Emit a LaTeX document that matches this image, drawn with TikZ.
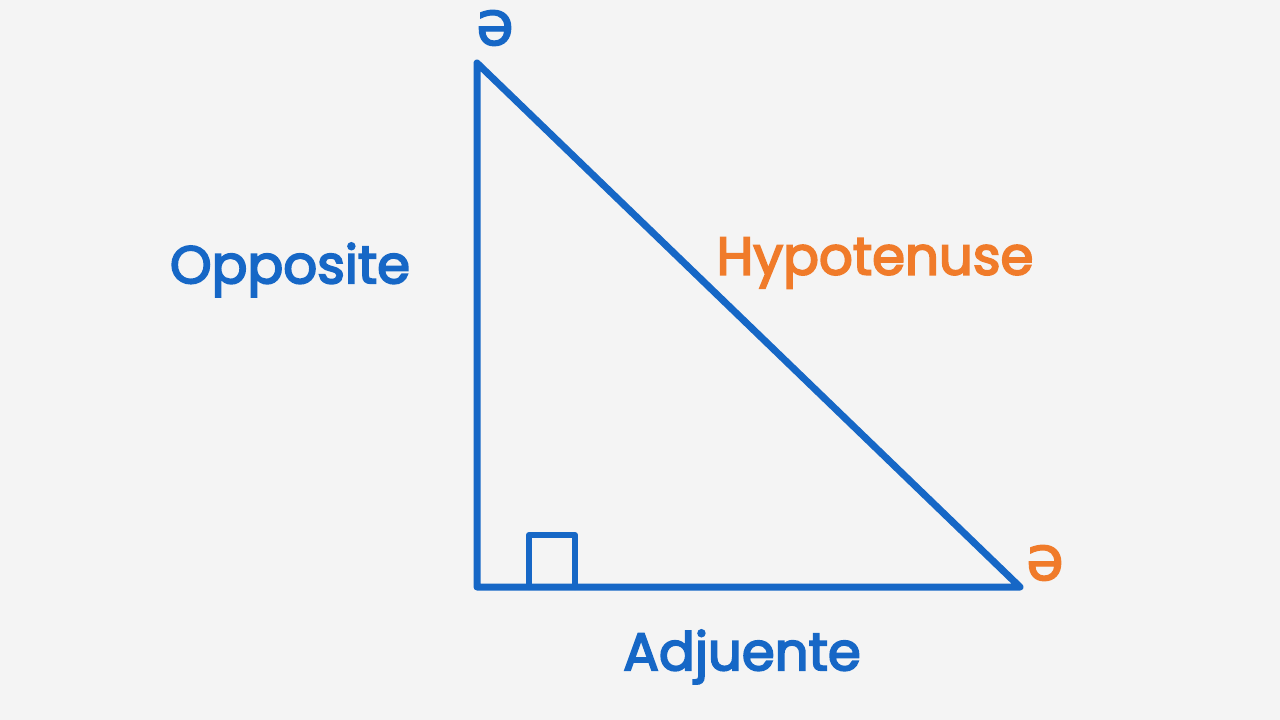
\documentclass[tikz,border=0pt]{standalone}
\usepackage{fontspec}
\setmainfont{Poppins}
\newfontfamily\lblfont{Poppins}[FakeBold=3.5]
\newfontfamily\schwa{DejaVu Sans}[FakeBold=2]
\definecolor{bg}{HTML}{F4F4F4}
\definecolor{tblue}{HTML}{1667C6}
\definecolor{torange}{HTML}{F07B2A}
\begin{document}
\begin{tikzpicture}[x=1pt,y=-1pt,
  side/.style={draw=tblue,line width=7pt,line join=round,line cap=round},
  lbl/.style={font=\lblfont\fontsize{53}{56}\selectfont,inner sep=0pt,anchor=center},
  sym/.style={font=\schwa\fontsize{62}{66}\selectfont,inner sep=0pt,anchor=center}]
\fill[bg] (0,0) rectangle (1280,720);
\useasboundingbox (0,0) rectangle (1280,720);
\coordinate (A) at (477,63);
\coordinate (B) at (477,587);
\coordinate (C) at (1020,587);
\draw[side] (A) -- (B) -- (C) -- cycle;
\coordinate (S1) at (529,587);
\coordinate (S2) at (575,535);
\draw[side,line width=6pt] (S1) |- (S2) -- (S2 |- S1);
\node[sym,text=tblue] (ta) at (495,28) {ə};
\node[sym,text=torange] (tc) at (1045,563) {ə};
\node[lbl,text=tblue] (opp) at (290,270) {Opposite};
\node[lbl,text=torange] (hyp) at (875,263) {Hypotenuse};
\node[lbl,text=tblue] (adj) at (742,657) {Adjuente};
\end{tikzpicture}
\end{document}
